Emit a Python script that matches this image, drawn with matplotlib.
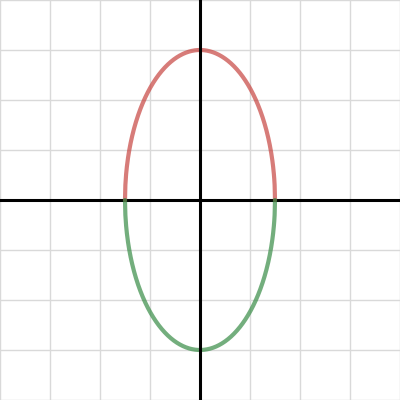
import numpy as np
import matplotlib.pyplot as plt

# Ellipse x^2/a^2 + y^2/b^2 = 1
a = 1.5
b = 3.0
x_range = (-4, 4)
y_range = (-4, 4)
grid_ticks = np.arange(-4, 5, 1)

red = '#c74440'
green = '#388c46'

t = np.linspace(-a, a, 400)
upper = b * np.sqrt(np.clip(1 - (t / a) ** 2, 0, None))
lower = -upper

fig = plt.figure(figsize=(4, 4), dpi=100)
ax = fig.add_axes([0, 0, 1, 1])

ax.set_xlim(*x_range)
ax.set_ylim(*y_range)
ax.set_xticks(grid_ticks)
ax.set_yticks(grid_ticks)
ax.grid(True, color='#d9d9d9', linewidth=1.0, zorder=0)
ax.tick_params(left=False, bottom=False, labelleft=False, labelbottom=False)
for s in ax.spines.values():
    s.set_visible(False)

# axes
ax.axhline(0, color='black', linewidth=2.2, zorder=2)
ax.axvline(0, color='black', linewidth=2.2, zorder=4)

# curves
ax.plot(t, upper, color=red, linewidth=3.0, alpha=0.7, zorder=3,
        solid_capstyle='round')
ax.plot(t, lower, color=green, linewidth=3.0, alpha=0.7, zorder=3,
        solid_capstyle='round')

fig.savefig('out.png', dpi=100)
